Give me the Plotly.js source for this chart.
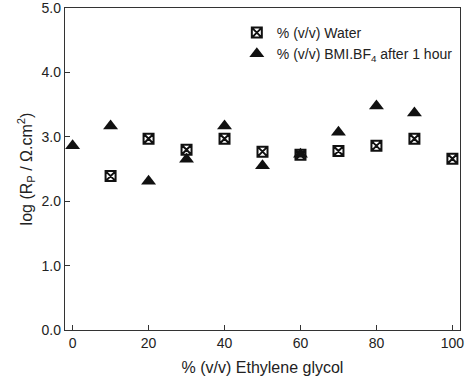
<!DOCTYPE html>
<html>
<head>
<meta charset="utf-8">
<script src="https://cdn.plot.ly/plotly-3.0.1.min.js"></script>
<style>html,body{margin:0;padding:0;background:#fff}#chart{width:474px;height:390px}</style>
</head>
<body>
<div id="chart"></div>
<script>
const waterX = [10, 20, 30, 40, 50, 60, 70, 80, 90, 100];
const waterY = [2.39, 2.97, 2.80, 2.97, 2.77, 2.72, 2.78, 2.86, 2.97, 2.66];
const bmiX = [0, 10, 20, 30, 40, 50, 60, 70, 80, 90];
const bmiY = [2.86, 3.17, 2.31, 2.65, 3.17, 2.55, 2.73, 3.07, 3.48, 3.37];
const waterName = '% (v/v) Water';
const bmiName = '% (v/v) BMI.BF<sub>4</sub> after 1 hour';
const xTicks = [0, 20, 40, 60, 80, 100];
const yTicks = [0, 1, 2, 3, 4, 5];

const fontFam = 'Liberation Sans, Arial, sans-serif';
const traces = [
  {x: waterX, y: waterY, name: waterName, mode: 'markers', type: 'scatter',
   marker: {symbol: 'square-x-open', size: 10, color: '#111', line: {width: 2, color: '#111'}}},
  {x: bmiX, y: bmiY, name: bmiName, mode: 'markers', type: 'scatter',
   marker: {symbol: 'triangle-up', size: 13, color: '#111', line: {width: 0}}}
];
const axisCommon = {showgrid: false, zeroline: false, showline: true, linecolor: '#333', linewidth: 1.2,
  mirror: true, ticks: 'inside', ticklen: 5, tickcolor: '#333', tickfont: {family: fontFam, size: 14, color: '#222'}};
const layout = {
  width: 474, height: 390,
  margin: {l: 65, r: 14, t: 8, b: 60},
  paper_bgcolor: '#fff', plot_bgcolor: '#fff',
  font: {family: fontFam, color: '#222'},
  showlegend: true,
  legend: {x: 0.435, y: 0.972, xanchor: 'left', yanchor: 'top', bgcolor: 'rgba(0,0,0,0)',
    font: {family: fontFam, size: 14, color: '#222'}, tracegroupgap: 0},
  xaxis: Object.assign({}, axisCommon, {range: [-2, 102], tickvals: xTicks,
    title: {text: '% (v/v) Ethylene glycol', font: {family: fontFam, size: 16, color: '#222'}, standoff: 11}}),
  yaxis: Object.assign({}, axisCommon, {range: [0, 5.001], tickvals: yTicks, tickformat: '.1f',
    ticklabeloverflow: 'allow',
    title: {text: 'log (R<sub>P</sub> / Ω.cm<sup>2</sup>)', font: {family: fontFam, size: 16, color: '#222'}, standoff: 5}})
};
Plotly.newPlot('chart', traces, layout, {displayModeBar: false, staticPlot: true});
</script>
</body>
</html>
